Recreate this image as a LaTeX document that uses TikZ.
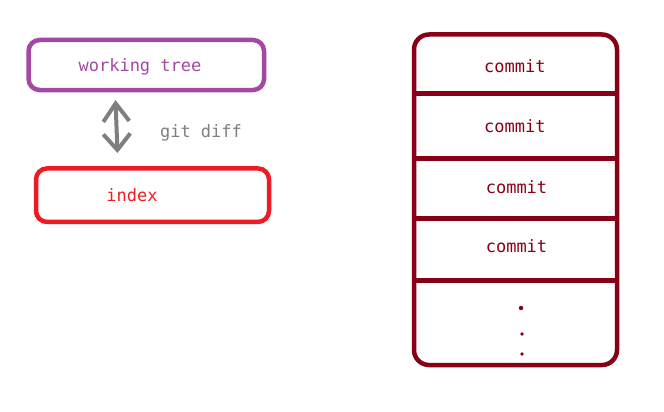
\documentclass[tikz,border=0pt]{standalone}
\usepackage{fontspec}
\setmonofont{DejaVu Sans Mono}
\usetikzlibrary{arrows.meta}
\definecolor{mspurple}{HTML}{A349A4}
\definecolor{msred}{HTML}{ED1C24}
\definecolor{msdarkred}{HTML}{880015}
\definecolor{msgray}{HTML}{7F7F7F}
\tikzset{
  lbl/.style={font=\ttfamily\fontsize{17}{20}\selectfont, inner sep=0pt, anchor=center},
  wtbox/.style={draw=mspurple, line width=4.5pt, rounded corners=11pt, minimum width=235.5pt, minimum height=50pt, inner sep=0pt},
  idxbox/.style={draw=msred, line width=4.5pt, rounded corners=11pt, minimum width=233pt, minimum height=53.5pt, inner sep=0pt},
  stackline/.style={draw=msdarkred, line width=4.5pt},
  diffarrow/.style={draw=msgray, line width=4pt, line cap=round, line join=round,
    {Straight Barb[length=18pt, width=26pt]}-{Straight Barb[length=16pt, width=27pt]}},
  dotmark/.style={circle, fill=msdarkred, inner sep=0pt},
}
\begin{document}
\begin{tikzpicture}[x=1pt, y=-1pt]
\useasboundingbox[fill=white] (0,0) rectangle (664,412);
% left side
\node[wtbox] (wt) at (146.3,65) {};
\node[lbl, text=mspurple] (wtlabel) at (140,66.5) {working tree};
\node[idxbox] (idx) at (152.5,195.2) {};
\node[lbl, text=msred] (idxlabel) at (132,195) {index};
\coordinate (atop) at (115.5,100);
\coordinate (abot) at (117.5,153);
\draw[diffarrow] (atop) -- (abot);
\node[lbl, text=msgray] (difflabel) at (201,133) {git diff};
% right stack
\draw[stackline, rounded corners=15pt] (414,34.5) rectangle (617,365);
\coordinate (d1l) at (414,93.5);   \coordinate (d1r) at (617,93.5);
\coordinate (d2l) at (414,158.3);  \coordinate (d2r) at (617,158.3);
\coordinate (d3l) at (414,218.3);  \coordinate (d3r) at (617,218.3);
\coordinate (d4l) at (414,280.5);  \coordinate (d4r) at (617,280.5);
\draw[stackline] (d1l) -- (d1r);
\draw[stackline] (d2l) -- (d2r);
\draw[stackline] (d3l) -- (d3r);
\draw[stackline] (d4l) -- (d4r);
\node[lbl, text=msdarkred] (c1) at (514.8,66.5) {commit};
\node[lbl, text=msdarkred] (c2) at (514.8,126.5) {commit};
\node[lbl, text=msdarkred] (c3) at (516.5,187.3) {commit};
\node[lbl, text=msdarkred] (c4) at (516.5,246) {commit};
\node[dotmark, minimum size=4.5pt] (dot1) at (521,308) {};
\node[dotmark, minimum size=3.6pt] (dot2) at (522,334) {};
\node[dotmark, minimum size=3.6pt] (dot3) at (522,354) {};
\end{tikzpicture}
\end{document}
